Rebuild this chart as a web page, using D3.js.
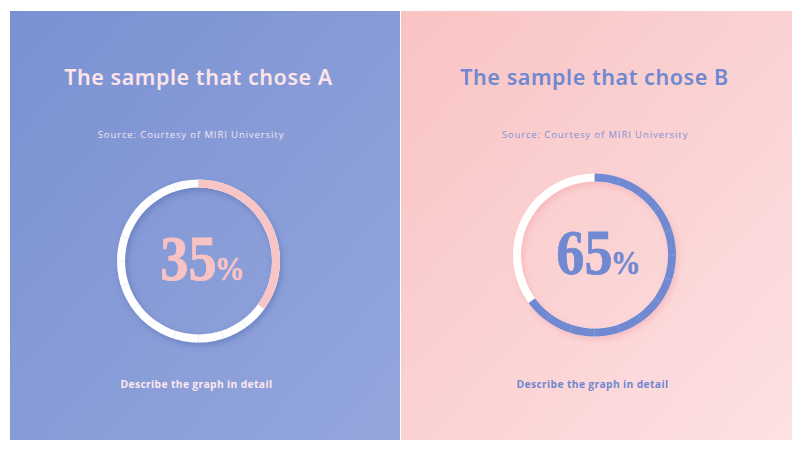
<!DOCTYPE html>
<html><head><meta charset="utf-8">
<script src="https://cdn.jsdelivr.net/npm/d3@7"></script>
<style>html,body{margin:0;padding:0;background:#fff;}svg{display:block;}</style>
</head><body>
<svg id="c" width="800" height="450"></svg>
<script>
const categories = ["The sample that chose A", "The sample that chose B"];
const values = [35, 65];
const sourceLabels = ["Source: Courtesy of MIRI University", "Source: Courtesy of MIRI University"];
const captions = ["Describe the graph in detail", "Describe the graph in detail"];
const segmentCount = 20;

const svg = d3.select("#c");
const defs = svg.append("defs");

const panels = [
  {x0:10, x1:400, g0:"#7a91d2", g1:"#94a6dc", title:"#fde4ea", src:"#f3e6f0", cap:"#fde8ee", fill:"#f9c4c4", rest:"#ffffff", num:"#f8c3c4", shadow:"#4a5fa8", div:"#c9d2ee", divOp:0.7},
  {x0:401, x1:792, g0:"#f9c3c3", g1:"#fde1e3", title:"#6f88d0", src:"#7f92d2", cap:"#6f88d0", fill:"#7189d1", rest:"#ffffff", num:"#7189d1", shadow:"#f59a9f", div:"#f4d4d6", divOp:0.3}
];
const centers = [[198.5, 261], [594.5, 255]];
const rOuter = 81.5, rInner = 73.5;

const pct = d3.scaleLinear().domain([0, 100]).range([0, 2 * Math.PI]);

panels.forEach((p, i) => {
  const gid = "grad" + i;
  const lg = defs.append("linearGradient").attr("id", gid).attr("x1", "0").attr("y1", "0").attr("x2", "1").attr("y2", "1");
  lg.append("stop").attr("offset", "0").attr("stop-color", p.g0);
  lg.append("stop").attr("offset", "1").attr("stop-color", p.g1);
  const f = defs.append("filter").attr("id", "sh" + i).attr("x", "-30%").attr("y", "-30%").attr("width", "160%").attr("height", "160%");
  f.append("feDropShadow").attr("dx", 2).attr("dy", 3).attr("stdDeviation", 3).attr("flood-color", p.shadow).attr("flood-opacity", 0.45);

  svg.append("rect").attr("x", p.x0).attr("y", 11).attr("width", p.x1 - p.x0).attr("height", 429).attr("fill", `url(#${gid})`);

  const [cx, cy] = centers[i];
  const g = svg.append("g");
  g.append("text").attr("x", cx).attr("y", 85).attr("text-anchor", "middle")
    .attr("font-family", "'Noto Sans', sans-serif").attr("font-size", 21.5).attr("font-weight", 600)
    .attr("letter-spacing", 0.55)
    .attr("fill", p.title).text(categories[i]);
  g.append("text").attr("x", i === 0 ? 191 : 595).attr("y", 138).attr("text-anchor", "middle")
    .attr("font-family", "'Open Sans', sans-serif").attr("font-size", 9.5).attr("letter-spacing", 0.9)
    .attr("fill", p.src).text(sourceLabels[i]);
  g.append("text").attr("x", cx - 2).attr("y", 388).attr("text-anchor", "middle")
    .attr("font-family", "'Open Sans', sans-serif").attr("font-size", 10.3).attr("font-weight", 700)
    .attr("letter-spacing", 0.35)
    .attr("fill", p.cap).text(captions[i]);

  const ring = svg.append("g").attr("transform", `translate(${cx},${cy})`);
  const arc = d3.arc().innerRadius(rInner).outerRadius(rOuter);
  ring.append("path").attr("d", arc({startAngle:0, endAngle:2*Math.PI})).attr("fill", p.rest).attr("filter", `url(#sh${i})`);
  ring.append("path").attr("d", arc({startAngle:0, endAngle:pct(values[i])})).attr("fill", p.fill);
  const segs = d3.range(segmentCount).map(k => k * 100 / segmentCount);
  ring.selectAll("line.div").data(segs).join("line")
    .attr("x1", d => rInner * Math.sin(pct(d))).attr("y1", d => -rInner * Math.cos(pct(d)))
    .attr("x2", d => rOuter * Math.sin(pct(d))).attr("y2", d => -rOuter * Math.cos(pct(d)))
    .attr("stroke", p.div).attr("stroke-width", 0.6).attr("opacity", p.divOp);

  const t = svg.append("text").attr("transform", `translate(${cx + 4},${cy + 19}) scale(0.88,1)`)
    .attr("text-anchor", "middle").attr("font-family", "'Liberation Serif', serif").attr("font-weight", 700)
    .attr("fill", p.num);
  t.append("tspan").attr("font-size", 64).attr("stroke", p.num).attr("stroke-width", 0.8).text(values[i]);
  t.append("tspan").attr("font-size", 34).attr("dx", -2).attr("stroke", p.num).attr("stroke-width", 0.5).text("%");
});
</script>
</body></html>
